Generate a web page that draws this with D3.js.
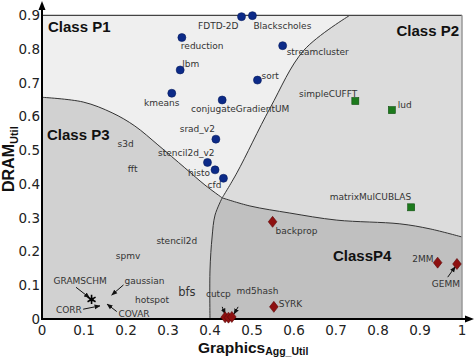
<!DOCTYPE html>
<html>
<head>
<meta charset="utf-8">
<script src="https://cdn.jsdelivr.net/npm/d3@7"></script>
<style>
  html, body { margin: 0; padding: 0; background: #fff; }
  svg { display: block; }
</style>
</head>
<body>
<svg id="chart" width="474" height="357"></svg>
<script>
// ---------------- DATA ----------------
const xTicks = [0, 0.1, 0.2, 0.3, 0.4, 0.5, 0.6, 0.7, 0.8, 0.9, 1];
const xTickLabels = ["0", "0.1", "0.2", "0.3", "0.4", "0.5", "0.6", "0.7", "0.8", "0.9", "1"];
const yTicks = [0, 0.1, 0.2, 0.3, 0.4, 0.5, 0.6, 0.7, 0.8, 0.9];
const yTickLabels = ["0", "0.1", "0.2", "0.3", "0.4", "0.5", "0.6", "0.7", "0.8", "0.9"];

// Class P1 (blue circles)
const p1Names = ["FDTD-2D", "Blackscholes", "reduction", "lbm", "kmeans", "conjugateGradientUM",
                 "sort", "streamcluster", "srad_v2", "stencil2d_v2", "histo", "cfd"];
const p1X = [0.475, 0.501, 0.333, 0.329, 0.309, 0.429, 0.513, 0.573, 0.414, 0.394, 0.412, 0.432];
const p1Y = [0.896, 0.899, 0.834, 0.738, 0.669, 0.649, 0.708, 0.810, 0.533, 0.464, 0.442, 0.417];

// Class P2 (green squares)
const p2Names = ["simpleCUFFT", "lud", "matrixMulCUBLAS"];
const p2X = [0.746, 0.833, 0.879];
const p2Y = [0.646, 0.619, 0.331];

// Class P4 (red diamonds)
const p4Names = ["backprop", "SYRK", "2MM", "GEMM", "", "", ""];
const p4X = [0.549, 0.552, 0.942, 0.988, 0.436, 0.444, 0.452];
const p4Y = [0.288, 0.036, 0.167, 0.163, 0.005, 0.004, 0.006];

// Class P3 (asterisk point + benchmark names)
const p3StarX = [0.118];
const p3StarY = [0.058];
const p3Names = ["s3d", "fft", "stencil2d", "spmv", "gaussian", "hotspot", "bfs", "cutcp", "md5hash",
                 "GRAMSCHM", "CORR", "COVAR"];
const p3X = [0.199, 0.216, 0.321, 0.205, 0.244, 0.262, 0.345, 0.420, 0.513, 0.091, 0.064, 0.219];
const p3Y = [0.510, 0.437, 0.222, 0.177, 0.104, 0.047, 0.068, 0.064, 0.074, 0.104, 0.019, 0.007];

// Region boundaries (data units)
const boundaryP1P2 = [[0.733, 0.9], [0.624, 0.797], [0.543, 0.625], [0.464, 0.433], [0.429, 0.359]];
const boundaryP3 = [[0, 0.657], [0.098, 0.643], [0.167, 0.611], [0.221, 0.572], [0.276, 0.516],
                    [0.340, 0.448], [0.388, 0.397], [0.429, 0.359]];
const boundaryP4Top = [[0.429, 0.359], [0.495, 0.335], [0.590, 0.314], [0.702, 0.293],
                       [0.852, 0.282], [0.924, 0.267], [1.0, 0.243]];
const boundaryP4Left = [[0.429, 0.359], [0.412, 0.308], [0.405, 0.243], [0.400, 0.145], [0.400, 0]];

// Annotation arrows [from, to] (data units)
const arrowFrom = [[0.081, 0.094], [0.098, 0.029], [0.178, 0.022], [0.194, 0.101], [0.966, 0.124],
                   [0.429, 0.036], [0.467, 0.036]];
const arrowTo = [[0.113, 0.063], [0.138, 0.039], [0.155, 0.044], [0.166, 0.071], [0.984, 0.155],
                 [0.436, 0.015], [0.457, 0.015]];

const classNames = ["Class P1", "Class P2", "Class P3", "ClassP4"];

// ---------------- LAYOUT / STYLE ----------------
const p1LabelPos = [[-3, 12, "end"], [1, 13, "start"], [-1, 11, "start"], [2, -3, "start"],
                    [-10, 13, "middle"], [18, 12, "middle"], [4, -1, "start"], [4, 9, "start"],
                    [-1, -7, "end"], [7, -6, "end"], [-5, 6, "end"], [-2, 10, "end"]];
const p2LabelPos = [[2, -4, "end"], [6, -2, "start"], [0, -7, "end"]];
const p4LabelPos = [[3, 12, "start"], [5, 0, "start"], [-4, -1, "end"], [-11, 23, "middle"],
                    [0, 0, "start"], [0, 0, "start"], [0, 0, "start"]];
const classPos = [[48, 32, "start"], [459, 36, "end"], [47, 140, "start"], [333, 261, "start"]];

const x = d3.scaleLinear().domain([0, 1]).range([42, 462]);
const y = d3.scaleLinear().domain([0, 0.9]).range([319, 15.3]);

const svg = d3.select("#chart");
const labelFont = "'DejaVu Sans', sans-serif";
const boldFont = "'Liberation Sans', Arial, sans-serif";

// defs
const defs = svg.append("defs");
defs.append("marker").attr("id", "ah").attr("viewBox", "0 0 10 10")
  .attr("refX", 9).attr("refY", 5).attr("markerWidth", 6).attr("markerHeight", 6)
  .attr("orient", "auto")
  .append("path").attr("d", "M0,1 L10,5 L0,9 Z").attr("fill", "#111");

// ---- regions ----
const line = d3.line().x(d => x(d[0])).y(d => y(d[1])).curve(d3.curveCatmullRom.alpha(0.5));
const seg = pts => line(pts);
const cont = pts => line(pts).replace(/^M/, "L");
const rev = pts => pts.slice().reverse();
const P = (a, b) => `${x(a)},${y(b)}`;

// P1 background
svg.append("rect").attr("x", x(0)).attr("y", y(0.9)).attr("width", x(1) - x(0)).attr("height", y(0) - y(0.9))
  .attr("fill", "#efefef");

// P2
svg.append("path")
  .attr("d", `M${P(0.733, 0.9)} L${P(1, 0.9)} L${P(1, 0.243)} ${cont(rev(boundaryP4Top))} ${cont(rev(boundaryP1P2))} Z`)
  .attr("fill", "#dcdcdc");
// P3
svg.append("path")
  .attr("d", `M${P(0, 0)} L${P(0, 0.657)} ${cont(boundaryP3)} ${cont(boundaryP4Left)} Z`)
  .attr("fill", "#d1d1d1");
// P4
svg.append("path")
  .attr("d", `${seg(boundaryP4Top)} L${P(1, 0)} L${P(0.4, 0)} ${cont(rev(boundaryP4Left))} Z`)
  .attr("fill", "#c0c0c0");

// boundary lines
[boundaryP1P2, boundaryP3, boundaryP4Top, boundaryP4Left].forEach(b => {
  svg.append("path").attr("d", seg(b)).attr("fill", "none").attr("stroke", "#333").attr("stroke-width", 1);
});

// frame (top + right)
svg.append("line").attr("x1", x(0)).attr("x2", x(1)).attr("y1", y(0.9)).attr("y2", y(0.9))
  .attr("stroke", "#444").attr("stroke-width", 1.2);
svg.append("line").attr("x1", x(1)).attr("x2", x(1)).attr("y1", y(0.9)).attr("y2", y(0))
  .attr("stroke", "#999").attr("stroke-width", 1.5);

// axes with arrows
svg.append("line").attr("x1", x(0)).attr("x2", x(0)).attr("y1", y(0) + 1).attr("y2", 7)
  .attr("stroke", "#000").attr("stroke-width", 2);
svg.append("path").attr("d", `M${x(0)},1 L${x(0) - 3.5},10 L${x(0) + 3.5},10 Z`).attr("fill", "#000");
svg.append("line").attr("x1", x(0) - 1).attr("x2", 468).attr("y1", y(0)).attr("y2", y(0))
  .attr("stroke", "#000").attr("stroke-width", 2);
svg.append("path").attr("d", `M474,${y(0)} L465,${y(0) - 3.5} L465,${y(0) + 3.5} Z`).attr("fill", "#000");

// tick labels
svg.append("g").selectAll("text").data(xTicks).join("text")
  .attr("x", d => x(d)).attr("y", 334.5).attr("text-anchor", "middle")
  .attr("font-family", labelFont).attr("font-size", 13.5).attr("fill", "#222")
  .text((d, i) => xTickLabels[i]);
svg.append("g").selectAll("text").data(yTicks).join("text")
  .attr("x", 40).attr("y", d => y(d)).attr("dy", "0.36em").attr("text-anchor", "end")
  .attr("font-family", labelFont).attr("font-size", 13.5).attr("fill", "#222")
  .text((d, i) => yTickLabels[i]);

// axis titles
const xt = svg.append("text").attr("x", 198).attr("y", 352.5)
  .attr("font-family", boldFont).attr("font-weight", "bold").attr("fill", "#111");
xt.append("tspan").attr("font-size", 15.5).text("Graphics");
xt.append("tspan").attr("font-size", 10.5).attr("dy", 2.5).text("Agg_Util");
const yt = svg.append("text").attr("transform", "translate(14,192) rotate(-90)")
  .attr("font-family", boldFont).attr("font-weight", "bold").attr("fill", "#111");
yt.append("tspan").attr("font-size", 16).text("DRAM");
yt.append("tspan").attr("font-size", 11).attr("dy", 4).text("Util");

// class labels
svg.append("g").selectAll("text").data(classNames).join("text")
  .attr("x", (d, i) => classPos[i][0]).attr("y", (d, i) => classPos[i][1])
  .attr("text-anchor", (d, i) => classPos[i][2])
  .attr("font-family", boldFont).attr("font-weight", "bold").attr("font-size", 15).attr("fill", "#111")
  .text(d => d);

// P3 name labels
svg.append("g").selectAll("text").data(p3Names).join("text")
  .attr("x", (d, i) => x(p3X[i])).attr("y", (d, i) => y(p3Y[i])).attr("text-anchor", "middle")
  .attr("font-family", labelFont).attr("font-size", d => d === "bfs" ? 11.5 : 9).attr("fill", "#333")
  .text(d => d);

// arrows
svg.append("g").selectAll("line").data(arrowFrom).join("line")
  .attr("x1", d => x(d[0])).attr("y1", d => y(d[1]))
  .attr("x2", (d, i) => x(arrowTo[i][0])).attr("y2", (d, i) => y(arrowTo[i][1]))
  .attr("stroke", "#111").attr("stroke-width", 1).attr("marker-end", "url(#ah)");

// asterisk
svg.append("g").selectAll("path").data(p3StarX).join("path")
  .attr("transform", (d, i) => `translate(${x(d)},${y(p3StarY[i])})`)
  .attr("d", d3.symbol(d3.symbolAsterisk, 60)())
  .attr("fill", "none").attr("stroke", "#000").attr("stroke-width", 1.6);
svg.append("g").selectAll("circle").data(p3StarX).join("circle")
  .attr("cx", d => x(d)).attr("cy", (d, i) => y(p3StarY[i])).attr("r", 2).attr("fill", "#000");

// P1 markers and labels
svg.append("g").selectAll("text").data(p1Names).join("text")
  .attr("x", (d, i) => x(p1X[i]) + p1LabelPos[i][0]).attr("y", (d, i) => y(p1Y[i]) + p1LabelPos[i][1])
  .attr("text-anchor", (d, i) => p1LabelPos[i][2])
  .attr("font-family", labelFont).attr("font-size", 9).attr("fill", "#333").text(d => d);
svg.append("g").selectAll("circle").data(p1X).join("circle")
  .attr("cx", d => x(d)).attr("cy", (d, i) => y(p1Y[i])).attr("r", 4)
  .attr("fill", "#0c2a88").attr("stroke", "#071c5e").attr("stroke-width", 0.6);

// P2 markers and labels
svg.append("g").selectAll("text").data(p2Names).join("text")
  .attr("x", (d, i) => x(p2X[i]) + p2LabelPos[i][0]).attr("y", (d, i) => y(p2Y[i]) + p2LabelPos[i][1])
  .attr("text-anchor", (d, i) => p2LabelPos[i][2])
  .attr("font-family", labelFont).attr("font-size", 9).attr("fill", "#333").text(d => d);
svg.append("g").selectAll("rect").data(p2X).join("rect")
  .attr("x", d => x(d) - 3.5).attr("y", (d, i) => y(p2Y[i]) - 3.5).attr("width", 7).attr("height", 7)
  .attr("fill", "#1c7a1c").attr("stroke", "#0f4f0f").attr("stroke-width", 0.6);

// P4 markers and labels
svg.append("g").selectAll("text").data(p4Names).join("text")
  .attr("x", (d, i) => x(p4X[i]) + p4LabelPos[i][0]).attr("y", (d, i) => y(p4Y[i]) + p4LabelPos[i][1])
  .attr("text-anchor", (d, i) => p4LabelPos[i][2])
  .attr("font-family", labelFont).attr("font-size", 9).attr("fill", "#333").text(d => d);
svg.append("g").selectAll("path").data(p4X).join("path")
  .attr("transform", (d, i) => `translate(${x(d)},${y(p4Y[i])})`)
  .attr("d", "M0,-5.5 L4.3,0 L0,5.5 L-4.3,0 Z")
  .attr("fill", "#8e1010").attr("stroke", "#5a0808").attr("stroke-width", 0.6);
</script>
</body>
</html>
